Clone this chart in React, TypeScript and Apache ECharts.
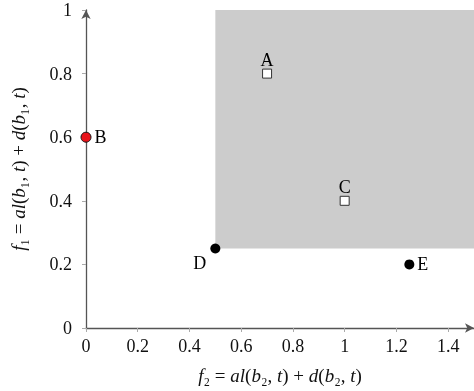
import React, { useEffect, useRef } from "react";
import * as echarts from "echarts";

const xTicks = [0, 0.2, 0.4, 0.6, 0.8, 1, 1.2, 1.4];
const yTicks = [0, 0.2, 0.4, 0.6, 0.8, 1];
const xRange = [0, 1.5];
const yRange = [0, 1];
const region = [[0.5, 0.25], [1.5, 1]];
const redPoints = [{ name: "B", value: [0, 0.6] }];
const blackPoints = [
  { name: "D", value: [0.5, 0.25] },
  { name: "E", value: [1.25, 0.2] },
];
const squarePoints = [
  { name: "A", value: [0.7, 0.8] },
  { name: "C", value: [1, 0.4] },
];

const FONT = "'Liberation Serif', 'DejaVu Serif', serif";

export default function App() {
  const ref = useRef<HTMLDivElement>(null);
  useEffect(() => {
    if (!ref.current) return;
    const chart = echarts.init(ref.current, null, { renderer: "svg" });
    const rich = {
      i: { fontFamily: FONT, fontSize: 19, fontStyle: "italic", color: "#111" },
      n: { fontFamily: FONT, fontSize: 19, color: "#111" },
    };
    const labelFor = (pos: string, offset?: number[]) => ({
      show: true,
      position: pos,
      formatter: "{b}",
      fontFamily: FONT,
      fontSize: 18,
      color: "#000",
      opacity: 1,
      distance: 3,
      offset,
    });
    chart.setOption({
      animation: false,
      grid: { left: 86, right: 0, top: 10, bottom: 63, containLabel: false },
      xAxis: {
        type: "value",
        min: xRange[0],
        max: xRange[1],
        interval: 0.2,
        splitLine: { show: false },
        axisLine: {
          show: true,
          onZero: false,
          symbol: ["none", "arrow"],
          symbolSize: [7, 9],
          lineStyle: { color: "#555", width: 1.3 },
        },
        axisTick: {
          show: true,
          length: 4,
          customValues: xTicks,
          lineStyle: { color: "#aaa" },
        },
        axisLabel: {
          customValues: xTicks,
          fontFamily: FONT,
          fontSize: 18,
          color: "#111",
          margin: 9,
        },
        name: "{i|f}{n|₂ = }{i|al}{n|(}{i|b}{n|₂, }{i|t}{n|) + }{i|d}{n|(}{i|b}{n|₂, }{i|t}{n|)}",
        nameLocation: "middle",
        nameGap: 38,
        nameTextStyle: { rich },
      },
      yAxis: {
        type: "value",
        min: yRange[0],
        max: yRange[1],
        interval: 0.2,
        splitLine: { show: false },
        axisLine: {
          show: true,
          onZero: false,
          symbol: ["none", "arrow"],
          symbolSize: [7, 9],
          lineStyle: { color: "#555", width: 1.3 },
        },
        axisTick: {
          show: true,
          length: 4,
          customValues: yTicks,
          lineStyle: { color: "#aaa" },
        },
        axisLabel: {
          customValues: yTicks,
          fontFamily: FONT,
          fontSize: 18,
          color: "#111",
          margin: 14,
        },
        name: "{i|f}{n|₁ = }{i|al}{n|(}{i|b}{n|₁, }{i|t}{n|) + }{i|d}{n|(}{i|b}{n|₁, }{i|t}{n|)}",
        nameLocation: "middle",
        nameGap: 58,
        nameRotate: 90,
        nameTextStyle: { rich },
      },
      series: [
        {
          type: "scatter",
          data: [],
          silent: true,
          z: 1,
          markArea: {
            silent: true,
            itemStyle: { color: "#cccccc", borderWidth: 0, opacity: 1 },
            data: [[{ coord: region[0] }, { coord: region[1] }]],
          },
        },
        {
          type: "scatter",
          symbol: "circle",
          symbolSize: 10,
          itemStyle: { color: "#e8141b", borderColor: "#111", borderWidth: 1, opacity: 1 },
          label: labelFor("right"),
          data: redPoints,
          z: 5,
        },
        {
          type: "scatter",
          symbol: "circle",
          symbolSize: 10,
          itemStyle: { color: "#000", opacity: 1 },
          label: labelFor("right"),
          data: [
            { ...blackPoints[0], label: labelFor("left", [-1, 14]) },
            blackPoints[1],
          ],
          z: 5,
        },
        {
          type: "scatter",
          symbol: "rect",
          symbolSize: 9,
          itemStyle: { color: "#fff", borderColor: "#333", borderWidth: 1, opacity: 1 },
          label: labelFor("top", [0, 3]),
          data: squarePoints,
          z: 5,
        },
      ],
    });
    return () => chart.dispose();
  }, []);
  return (
    <div
      ref={ref}
      style={{ position: "fixed", left: 0, top: 0, width: 474, height: 391 }}
    />
  );
}
